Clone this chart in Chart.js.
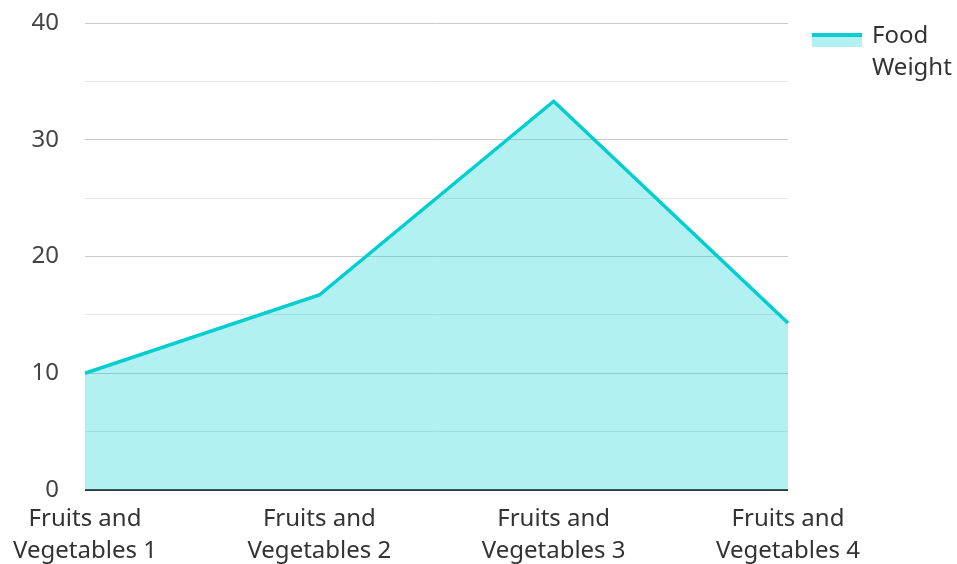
<!DOCTYPE html>
<html><head><meta charset="utf-8">
<script src="https://cdn.jsdelivr.net/npm/chart.js@4/dist/chart.umd.min.js"></script>
<style>html,body{margin:0;padding:0;background:#fff}#wrap{width:957px;height:564px;position:relative}</style>
</head><body><div id="wrap"><canvas id="c"></canvas></div>
<script>
const categories = [["Fruits and","Vegetables 1"],["Fruits and","Vegetables 2"],["Fruits and","Vegetables 3"],["Fruits and","Vegetables 4"]];
const seriesName = ["Food","Weight"];
const foodWeight = [10, 16.7, 33.3, 14.3];
const yTicks = [0, 10, 20, 30, 40];

const FONT = '"Noto Sans", "Open Sans", sans-serif';
const LINE = 'rgb(0,206,209)';
const FILL = 'rgba(0,206,209,0.3)';

const legendPlugin = {
  id: 'customLegend',
  afterDraw(chart) {
    const ctx = chart.ctx;
    ctx.save();
    ctx.fillStyle = FILL;
    ctx.fillRect(812, 35, 50, 12);
    ctx.fillStyle = LINE;
    ctx.fillRect(812, 33, 50, 4);
    ctx.fillStyle = '#333';
    ctx.font = '24px ' + FONT;
    ctx.textBaseline = 'middle';
    ctx.textAlign = 'left';
    seriesName.forEach((t, i) => ctx.fillText(t, 872, 36 + i * 32));
    ctx.restore();
  }
};

new Chart(document.getElementById('c'), {
  type: 'line',
  data: {
    labels: categories,
    datasets: [{
      label: seriesName.join(' '),
      data: foodWeight,
      borderColor: LINE,
      backgroundColor: FILL,
      borderWidth: 3.5,
      fill: 'origin',
      pointRadius: 0,
      tension: 0
    }]
  },
  options: {
    responsive: true,
    maintainAspectRatio: false,
    animation: false,
    layout: { padding: { top: 23, right: 169, left: 0, bottom: 0 } },
    plugins: { legend: { display: false }, tooltip: { enabled: false } },
    scales: {
      x: {
        offset: false,
        afterFit(scale) { scale.height = 74; },
        grid: { display: false, drawTicks: false },
        border: { display: false },
        ticks: { color: '#333', font: { family: FONT, size: 24, lineHeight: 1.33 }, padding: 13, maxRotation: 0, autoSkip: false }
      },
      y: {
        min: 0, max: 40,
        afterFit(scale) { scale.width = 85; scale.paddingTop = 0; },
        border: { display: false },
        grid: {
          drawTicks: false,
          color: c => c.tick.value === 0 ? '#333' : (yTicks.includes(c.tick.value) ? '#cccccc' : '#e6e6e6'),
          lineWidth: c => c.tick.value === 0 ? 2 : 1
        },
        ticks: {
          stepSize: 5,
          padding: 26,
          color: '#444',
          font: { family: FONT, size: 24 },
          callback: v => yTicks.includes(v) ? String(v) : ''
        }
      }
    }
  },
  plugins: [legendPlugin]
});
</script></body></html>
